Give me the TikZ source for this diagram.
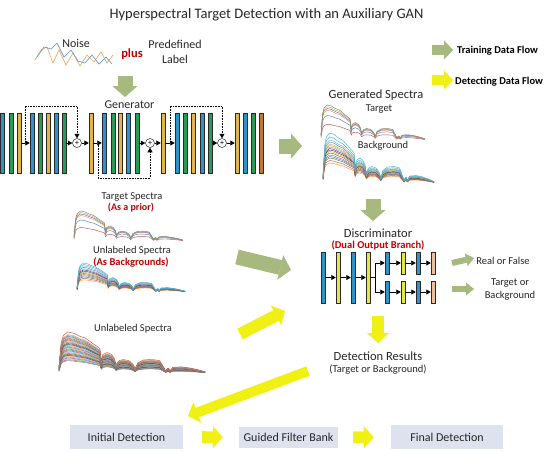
\documentclass[tikz,border=0pt]{standalone}
\usepackage{fontspec}
\setmainfont{Carlito}
\usetikzlibrary{arrows.meta,positioning}

\definecolor{ink}{HTML}{262626}
\definecolor{hintred}{HTML}{C00000}
\definecolor{trainflow}{HTML}{A8B97F}
\definecolor{detectflow}{HTML}{F0F014}
\definecolor{boxfill}{HTML}{DDE2EE}
\definecolor{barline}{HTML}{2A2A2A}
\definecolor{gblue}{HTML}{2F93CB}
\definecolor{ggreen}{HTML}{2A9A57}
\definecolor{ggold}{HTML}{E2B64C}
\definecolor{gbrown}{HTML}{C57636}
\definecolor{dyellow}{HTML}{E4E64A}
\definecolor{dpeach}{HTML}{EDC0A2}
\definecolor{noiseorange}{HTML}{EBA96B}
\definecolor{noiseblue}{HTML}{6F9FCF}
\definecolor{sp1}{HTML}{4F81BD}
\definecolor{sp2}{HTML}{C0504D}
\definecolor{sp3}{HTML}{9BBB59}
\definecolor{sp4}{HTML}{8064A2}
\definecolor{sp5}{HTML}{4BACC6}
\definecolor{sp6}{HTML}{F79646}
\definecolor{sp7}{HTML}{2C4D75}
\definecolor{sp8}{HTML}{772C2A}
\definecolor{sp9}{HTML}{5F7530}
\definecolor{sp10}{HTML}{A08CBA}
\definecolor{sp11}{HTML}{6FBDD1}
\definecolor{sp12}{HTML}{B65708}

% one spectrum, #1 colour, #2 amplitude
\newcommand{\spec}[2]{%
  \draw[draw=#1, line width=0.45pt, line join=round, yscale=#2]
    (0,0.15) -- (1.5,0.75) -- (3,0.92) -- (6,1) -- (10,0.97) -- (14,0.9) -- (18,0.85)
    -- (22,0.75) -- (26,0.65) -- (28,0.6) -- (29,0.3) -- (30,0.45) -- (33,0.5)
    -- (36,0.45) -- (38,0.35) -- (39,0.2) -- (41,0.3) -- (44,0.33) -- (48,0.3)
    -- (51,0.2) -- (52,0.1) -- (54,0.25) -- (58,0.32) -- (64,0.33) -- (69,0.3)
    -- (72,0.12) -- (73,0.05) -- (74,0.1) -- (75,0.12) -- (76,0.05) -- (78,0.14)
    -- (84,0.15) -- (90,0.12) -- (95,0.08) -- (100,0.03);}
\newcommand{\sizept}[1]{\fontsize{#1}{#1}\selectfont}

\tikzset{
  lbl/.style={text=ink, font=\sizept{12}, inner sep=0pt},
  biglbl/.style={text=ink, font=\sizept{12.5}, inner sep=0pt},
  sublbl/.style={text=ink, font=\sizept{10.5}, inner sep=0pt},
  hint/.style={text=hintred, font=\bfseries\sizept{10.5}, inner sep=0pt},
  legendlbl/.style={text=black, font=\bfseries\sizept{10.5}, inner sep=0pt, anchor=west},
  gbar/.style={draw=barline, line width=0.5pt, minimum width=4pt, minimum height=60pt, inner sep=0pt},
  dbar/.style={draw=barline, line width=0.5pt, minimum width=4pt, inner sep=0pt},
  adder/.style={circle, draw=barline, fill=white, line width=0.5pt, minimum size=9pt, inner sep=0pt, font=\sizept{8}},
  net/.style={line width=0.6pt, -{Triangle[length=4.5pt,width=5pt]}},
  skip/.style={densely dotted, line width=0.6pt, -{Triangle[length=4.5pt,width=5pt]}},
  stage/.style={fill=boxfill, text=ink, font=\sizept{12}, inner sep=0pt},
  train/.style={draw=trainflow},
  detect/.style={draw=detectflow},
  flowbig/.style={line width=15pt, -{Triangle[width=25pt,length=11pt,line width=0.4pt]}},
  flowmid/.style={line width=12pt, -{Triangle[width=22pt,length=10pt,line width=0.4pt]}},
  flowsmall/.style={line width=6pt, -{Triangle[width=13pt,length=8pt,line width=0.4pt]}},
}

\begin{document}
\begin{tikzpicture}[x=1pt, y=-1pt]
\useasboundingbox (0,0) rectangle (550,451);

\node[text=ink, font=\sizept{14.5}, inner sep=0pt] (title) at (266.5,15) {Hyperspectral Target Detection with an Auxiliary GAN};

% noise and label
\draw[noiseorange, line width=0.7pt] (35,60) -- (41,50) -- (47,47) -- (53,63) -- (59,50) -- (66,65) -- (73,53) -- (80,66) -- (87,55) -- (94,62) -- (101,52) -- (107,63) -- (113,55);
\draw[noiseblue, line width=0.7pt] (37,57) -- (44,47) -- (51,49) -- (57,43) -- (64,57) -- (71,50) -- (78,61) -- (85,63) -- (92,55) -- (99,64) -- (106,57) -- (112,64);
\node[lbl] (noise) at (76,43) {Noise};
\node[text=hintred, font=\bfseries\sizept{12.5}, inner sep=0pt] (plus) at (132,54) {plus};
\node[lbl, font=\fontsize{12}{15.5}\selectfont, align=center] (label) at (175,52) {Predefined\\Label};

% generator
\node[lbl] (gen) at (129.5,105) {Generator};
\foreach \x/\col [count=\i] in {2.5/gblue,11/ggreen,19/ggold,32/gblue,40/ggreen,48/ggold,56/gblue,64/ggreen,91/ggold,104/gblue,113/ggreen,120/ggold,128/gblue,137/ggreen,163/ggold,177/gblue,185/ggreen,193/ggold,202/gblue,210/ggreen,237/ggold,245/gblue,253/ggreen,261/gbrown}
  \node[gbar, fill=\col] (g\i) at (\x,143) {};
\node[adder] (p1) at (77,143) {+};
\node[adder] (p2) at (150,143) {+};
\node[adder] (p3) at (222,143) {+};
\foreach \a/\b in {g3/g4, g8/p1, p1/g9, g9/g10, g14/p2, p2/g15, g15/g16, g20/p3, p3/g21}
  \draw[net] (\a) -- (\b);
\coordinate (s1) at (25,143);
\coordinate (s2) at (98,143);
\coordinate (s3) at (170,143);
\draw[skip] (s1) -- (25,106) -| (p1);
\draw[skip] (s2) -- (98,178) -| (p2);
\draw[skip] (s3) -- (170,106) -| (p3);

% generated spectra
\node[biglbl] (genspec) at (376,95) {Generated Spectra};
\node[sublbl] (gentgt) at (379,109) {Target};
\node[sublbl] (genbg) at (383,146) {Background};
\begin{scope}[shift={(321,140)}, xscale=1.04, yscale=-35]
  \foreach \a/\col in {0.45/sp2, 0.7/sp1, 0.85/sp6, 0.9/sp4, 0.95/sp3, 1/gray}
    {\spec{\col}{\a}}
\end{scope}
\begin{scope}[shift={(323,183)}, xscale=1.11, yscale=-50]
  \foreach \a/\col in {0.4/sp6, 0.45/sp2, 0.5/sp9, 0.53/sp1, 0.56/sp4, 0.6/sp12, 0.63/sp3, 0.66/sp8, 0.69/sp7, 0.72/sp10, 0.75/sp6, 0.78/sp3, 0.82/sp1, 0.86/sp11, 0.92/sp5, 1/sp5}
    {\spec{\col}{\a}}
\end{scope}

% prior and unlabeled spectra
\node[sublbl] (tgtspec) at (132,197) {Target Spectra};
\node[hint, font=\bfseries\sizept{10}] (prior) at (131,208) {(As a prior)};
\begin{scope}[shift={(74,241)}, xscale=1.09, yscale=-30]
  \foreach \a/\col in {0.45/sp2, 0.7/sp1, 0.85/sp6, 0.9/sp4, 0.95/sp3, 1/gray}
    {\spec{\col}{\a}}
\end{scope}
\node[sublbl] (unlab) at (132,251) {Unlabeled Spectra};
\node[hint] (asbg) at (131,262) {(As Backgrounds)};
\begin{scope}[shift={(77,292)}, xscale=1.08, yscale=-29]
  \foreach \a/\col in {0.42/sp6, 0.47/sp2, 0.52/sp9, 0.56/sp1, 0.6/sp4, 0.64/sp12, 0.68/sp3, 0.72/sp8, 0.76/sp7, 0.8/sp10, 0.85/sp1, 0.9/sp11, 0.95/sp5, 1/sp5}
    {\spec{\col}{\a}}
\end{scope}
\node[sublbl] (unlab2) at (133,329) {Unlabeled Spectra};
\begin{scope}[shift={(59,373)}, xscale=1.46, yscale=-41]
  \foreach \i in {0,...,29} {
    \pgfmathsetmacro\amp{0.3+0.022*\i}
    \pgfmathtruncatemacro\k{mod(\i,12)+1}
    \spec{sp\k}{\amp}
  }
  \spec{sp2}{1}
\end{scope}

% discriminator
\node[biglbl] (disc) at (378,233) {Discriminator};
\node[hint] (dual) at (378,245) {(Dual Output Branch)};
\foreach \x/\col [count=\i] in {323/gblue,338/dyellow,353/gblue,368/dyellow}
  \node[dbar, minimum height=51pt, fill=\col] (d\i) at (\x,277.5) {};
\foreach \x/\col [count=\i] in {387/gblue,403/dyellow,418/gblue,433/dpeach} {
  \node[dbar, minimum height=22pt, fill=\col] (u\i) at (\x,263) {};
  \node[dbar, minimum height=22pt, fill=\col] (l\i) at (\x,292) {};
}
\foreach \a/\b in {d1/d2, d2/d3, d3/d4, u1/u2, u2/u3, u3/u4, l1/l2, l2/l3, l3/l4}
  \draw[net] (\a) -- (\b);
\coordinate (br) at (375,277.5);
\draw[net] (d4) -- (br) |- (u1);
\draw[net] (br) |- (l1);
\node[sublbl] (realfalse) at (503,261) {Real or False};
\node[sublbl, font=\fontsize{10.5}{13}\selectfont, align=center] (tgtbg) at (510,290) {Target or\\Background};

% detection
\node[biglbl] (result) at (378,356) {Detection Results};
\node[sublbl] (resultsub) at (378,370) {(Target or Background)};
\node[stage, minimum width=113pt, minimum height=24pt] (init) at (126.5,437) {Initial Detection};
\node[stage, minimum width=99pt, minimum height=21pt] (guided) at (288.5,437.5) {Guided Filter Bank};
\node[stage, minimum width=112pt, minimum height=24pt] (final) at (447,437) {Final Detection};

% legend
\coordinate (lt1) at (432,50);
\coordinate (lt2) at (453,50);
\coordinate (ld1) at (432,80);
\coordinate (ld2) at (453,80);
\draw[train, flowsmall, line width=10pt, -{Triangle[width=19pt,length=9pt,line width=0.4pt]}] (lt1) -- (lt2);
\draw[detect, flowsmall, line width=10pt, -{Triangle[width=19pt,length=9pt,line width=0.4pt]}] (ld1) -- (ld2);
\node[legendlbl] (trainlbl) at (457,51) {Training Data Flow};
\node[legendlbl] (detectlbl) at (455,82) {Detecting Data Flow};

% data flow
\coordinate (f1) at (125,76);
\coordinate (f2) at (125,97);
\coordinate (f3) at (279,146);
\coordinate (f4) at (302,146);
\coordinate (f5) at (373,199);
\coordinate (f6) at (373,221);
\coordinate (f7) at (237,257);
\coordinate (f8) at (291,270);
\coordinate (f9) at (452,263);
\coordinate (f10) at (474,258);
\coordinate (f11) at (452,289);
\coordinate (f12) at (474,289);
\coordinate (y1) at (240,334);
\coordinate (y2) at (285,311);
\coordinate (y3) at (378,316);
\coordinate (y4) at (378,343);
\coordinate (y5) at (308,371);
\coordinate (y6) at (188,416);
\draw[train, flowbig] (f1) -- (f2);
\draw[train, flowbig] (f3) -- (f4);
\draw[train, flowbig] (f5) -- (f6);
\draw[train, flowbig] (f7) -- (f8);
\draw[train, flowsmall] (f9) -- (f10);
\draw[train, flowsmall] (f11) -- (f12);
\draw[detect, flowmid] (y1) -- (y2);
\draw[detect, flowmid] (y3) -- (y4);
\draw[detect, flowmid, line width=10pt] (y5) -- (y6);
\draw[detect, flowmid, shorten <=19pt, shorten >=16pt] (init) -- (guided);
\draw[detect, flowmid, shorten <=15pt, shorten >=17pt] (guided) -- (final);
\end{tikzpicture}
\end{document}
